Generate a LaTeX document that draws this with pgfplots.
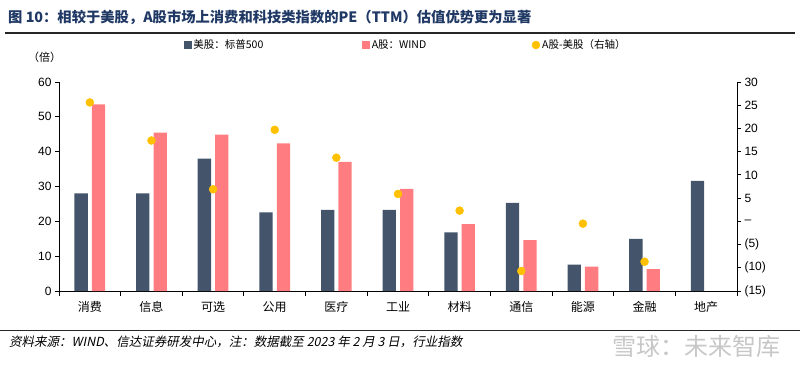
\documentclass[border=0pt]{standalone}
\usepackage{pgfplots}
\pgfplotsset{compat=1.18}
\usepackage{pgfplotstable}
\usepackage{fontspec}
\setmainfont{Liberation Sans}
\newfontfamily\cjk{Noto Sans CJK SC}
\newfontfamily\cjkit[FakeSlant=0.2]{Noto Sans CJK SC}
\definecolor{navy}{HTML}{44546A}
\definecolor{pinkbar}{HTML}{FF7C80}
\definecolor{gold}{HTML}{FFC000}
\definecolor{titleblue}{HTML}{1F3864}

\pgfplotstableread{
x us cn
0 28.0 53.6
1 28.0 45.5
2 38.0 44.9
3 22.6 42.4
4 23.3 37.1
5 23.3 29.3
6 16.8 19.2
7 25.3 14.6
8 7.6 7.0
9 15.0 6.3
10 31.6 nan
}\bars

\pgfplotstableread{
x d
0 25.6
1 17.4
2 6.9
3 19.7
4 13.7
5 5.9
6 2.3
7 -10.7
8 -0.5
9 -8.7
}\diff

\begin{document}
\begin{tikzpicture}
\path[use as bounding box] (0,0) rectangle (800pt,367pt);
% title
\node[anchor=west, text=titleblue, font=\cjk\bfseries\fontsize{14.3}{16}\selectfont, inner sep=0] at (8pt,350pt) {图 10：相较于美股，A股市场上消费和科技类指数的PE（TTM）估值优势更为显著};
\draw[line width=1.3pt, black!85] (5pt,334pt) -- (795pt,334pt);
\node[anchor=west, font=\cjk\fontsize{11}{13}\selectfont, inner sep=0] at (28pt,310pt) {（倍）};
% footer
\draw[line width=1pt, black!85] (0pt,37pt) -- (800pt,37pt);
\node[anchor=west, font=\cjkit\fontsize{12.5}{14}\selectfont, inner sep=0] at (9pt,25pt) {资料来源：WIND、信达证券研发中心，注：数据截至 2023 年 2 月 3 日，行业指数};
\node[anchor=west, font=\cjk\fontsize{24}{26}\selectfont, text=black!22, inner sep=0] at (612pt,21pt) {雪球：未来智库};

\begin{axis}[at={(59pt,76pt)}, anchor=south west, scale only axis,
 width=678pt, height=209pt,
 xmin=-0.5, xmax=10.5, ymin=0, ymax=60,
 axis x line*=bottom, axis y line*=left,
 axis line style={black, line width=0.9pt, -},
 xtick={0,...,10},
 xticklabels={消费,信息,可选,公用,医疗,工业,材料,通信,能源,金融,地产},
 xticklabel style={font=\cjk\fontsize{12}{14}\selectfont, yshift=-3pt},
 major x tick style={draw=none},
 minor xtick={-0.5,0.5,...,10.5},
 minor x tick style={black, line width=0.9pt},
 minor tick length=5pt, major tick length=4pt, tick align=outside,
 ytick={0,10,...,60},
 major y tick style={black, line width=0.9pt},
 yticklabel style={font=\fontsize{12}{14}\selectfont},
 /pgf/number format/assume math mode=true,
 ybar, bar width=13.3pt,
 clip=false,
]
\addplot[fill=navy, draw=none, bar shift=-8.7pt] table[x=x,y=us]{\bars};
\addplot[fill=pinkbar, draw=none, bar shift=8.7pt] table[x=x,y=cn]{\bars};
\end{axis}

\begin{axis}[at={(59pt,76pt)}, anchor=south west, scale only axis,
 width=678pt, height=209pt,
 xmin=-0.5, xmax=10.5, ymin=-15, ymax=30,
 axis x line=none, axis y line*=right,
 axis line style={black, line width=0.9pt, -},
 ytick={-15,-10,...,30},
 yticklabels={(15),(10),(5),–,5,10,15,20,25,30},
 major tick length=4pt, tick align=outside,
 major y tick style={black, line width=0.9pt},
 yticklabel style={font=\fontsize{12}{14}\selectfont},
 /pgf/number format/assume math mode=true,
 clip=false,
 legend columns=3,
 legend cell align=left,
 legend style={at={(0.184,1.177)}, anchor=west, draw=none, fill=none,
   font=\cjk\fontsize{10.5}{12}\selectfont, inner sep=0pt},
]
\addlegendimage{legend image code/.code={\fill[navy] (0pt,-3.5pt) rectangle (7pt,3.5pt);}}
\addlegendentry{\makebox[167pt][l]{美股：标普500}}
\addlegendimage{legend image code/.code={\fill[pinkbar] (0pt,-3.5pt) rectangle (7pt,3.5pt);}}
\addlegendentry{\makebox[158pt][l]{A股：WIND}}
\addplot[only marks, mark=*, mark size=4pt, color=gold,
  legend image code/.code={\fill[gold] (3.5pt,0pt) circle (4pt);}] table[x=x,y=d]{\diff};
\addlegendentry{A股-美股（右轴）}
\end{axis}
\end{tikzpicture}
\end{document}
